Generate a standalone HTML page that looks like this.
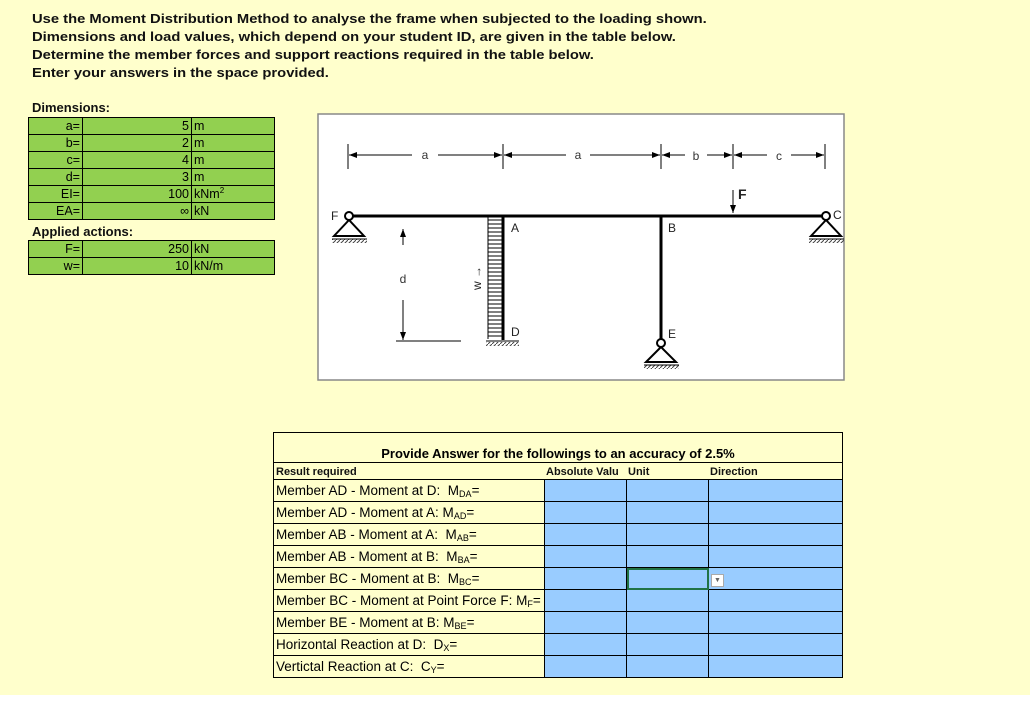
<!DOCTYPE html>
<html><head><style>
body{margin:0;width:1030px;height:703px;background:#fff;position:relative;font-family:"Liberation Sans",Arial,sans-serif;overflow:hidden}
#bg{position:absolute;left:0;top:0;width:1030px;height:695px;background:#FFFFCC}
.t{position:absolute;left:32px;font-weight:bold;font-size:13px;color:#111;white-space:nowrap}
.w{transform:scaleX(1.135);transform-origin:0 0}
.g{position:absolute;border-collapse:collapse;font-size:12.5px}
.g td{border:1.5px solid #000;background:#92D050;height:16px;padding:0 2px;line-height:16px}
.a{position:absolute;left:273px;top:479px;border-collapse:collapse;font-size:13.5px;width:570px}
.a td{border:1px solid #000;height:21px;padding:0 2px;white-space:nowrap;line-height:16px}
.a td.b{background:#99CCFF}
sub{font-size:9px;line-height:0;vertical-align:-2px}
.s{position:absolute;top:466px;font-size:11px;font-weight:bold;color:#111}
</style></head><body>
<div id="bg"></div>
<div class="t w" style="top:11px">Use the Moment Distribution Method to analyse the frame when subjected to the loading shown.</div>
<div class="t w" style="top:29px">Dimensions and load values, which depend on your student ID, are given in the table below.</div>
<div class="t w" style="top:47px">Determine the member forces and support reactions required in the table below.</div>
<div class="t w" style="top:65px">Enter your answers in the space provided.</div>
<div class="t" style="top:100px">Dimensions:</div>
<table class="g" style="left:28px;top:117px">
<tr><td style="width:49px;text-align:right">a=</td><td style="width:104px;text-align:right">5</td><td style="width:78px">m</td></tr>
<tr><td style="text-align:right">b=</td><td style="text-align:right">2</td><td>m</td></tr>
<tr><td style="text-align:right">c=</td><td style="text-align:right">4</td><td>m</td></tr>
<tr><td style="text-align:right">d=</td><td style="text-align:right">3</td><td>m</td></tr>
<tr><td style="text-align:right">EI=</td><td style="text-align:right">100</td><td>kNm<sup style="font-size:8px;line-height:0">2</sup></td></tr>
<tr><td style="text-align:right">EA=</td><td style="text-align:right">∞</td><td>kN</td></tr>
</table>
<div class="t" style="top:224px">Applied actions:</div>
<table class="g" style="left:28px;top:240px">
<tr><td style="width:49px;text-align:right">F=</td><td style="width:104px;text-align:right">250</td><td style="width:78px">kN</td></tr>
<tr><td style="text-align:right">w=</td><td style="text-align:right">10</td><td>kN/m</td></tr>
</table>
<svg style="position:absolute;left:0;top:0" width="1030" height="703">
<defs><marker id="ar" markerWidth="8" markerHeight="6" refX="8" refY="3" orient="auto"><path d="M0,0L8,3L0,6z" fill="#000"/></marker>
<pattern id="h" width="4" height="4" patternUnits="userSpaceOnUse"><path d="M0,4L4,0" stroke="#444" stroke-width="1"/></pattern></defs>
<rect x="318" y="114" width="526" height="266" fill="#fff" stroke="#888" stroke-width="1.5"/>
<g stroke="#000" stroke-width="1" fill="none">
<line x1="348" y1="144" x2="348" y2="169"/><line x1="503" y1="144" x2="503" y2="169"/><line x1="661" y1="144" x2="661" y2="169"/><line x1="733" y1="144" x2="733" y2="169"/><line x1="825" y1="144" x2="825" y2="169"/>
<line x1="412" y1="155" x2="349" y2="155" marker-end="url(#ar)"/><line x1="438" y1="155" x2="502" y2="155" marker-end="url(#ar)"/>
<line x1="566" y1="155" x2="504" y2="155" marker-end="url(#ar)"/><line x1="590" y1="155" x2="660" y2="155" marker-end="url(#ar)"/>
<line x1="685" y1="155" x2="662" y2="155" marker-end="url(#ar)"/><line x1="707" y1="155" x2="732" y2="155" marker-end="url(#ar)"/>
<line x1="767" y1="155" x2="734" y2="155" marker-end="url(#ar)"/><line x1="791" y1="155" x2="824" y2="155" marker-end="url(#ar)"/>
<line x1="403" y1="245" x2="403" y2="229" marker-end="url(#ar)"/><line x1="403" y1="300" x2="403" y2="340" marker-end="url(#ar)"/>
<line x1="396" y1="341" x2="461" y2="341"/>
<line x1="733" y1="190" x2="733" y2="213" marker-end="url(#ar)"/>
</g>
<g font-size="12" fill="#333" text-anchor="middle"><text x="425" y="159">a</text><text x="578" y="159">a</text><text x="696" y="160">b</text><text x="779" y="160">c</text><text x="403" y="283">d</text></g>
<g stroke="#000" stroke-width="1">
<line x1="488" y1="217" x2="488" y2="339"/>
<path d="M488 220H502M488 224H502M488 228H502M488 232H502M488 236H502M488 240H502M488 244H502M488 248H502M488 252H502M488 256H502M488 260H502M488 264H502M488 268H502M488 272H502M488 276H502M488 280H502M488 284H502M488 288H502M488 292H502M488 296H502M488 300H502M488 304H502M488 308H502M488 312H502M488 316H502M488 320H502M488 324H502M488 328H502M488 332H502M488 336H502"/>
</g>
<g stroke="#000" stroke-width="3"><line x1="349" y1="216" x2="825" y2="216"/><line x1="503" y1="216" x2="503" y2="340"/><line x1="661" y1="216" x2="661" y2="340"/></g>
<g stroke="#000" stroke-width="2" fill="#fff">
<path d="M349 220L334 236H364Z"/><circle cx="349" cy="216" r="4"/>
<path d="M826 220L811 236H841Z"/><circle cx="826" cy="216" r="4"/>
<path d="M661 347L646 362H676Z"/><circle cx="661" cy="343" r="4"/>
</g>
<g fill="url(#h)"><rect x="332" y="239" width="35" height="4"/><rect x="809" y="239" width="35" height="4"/><rect x="644" y="365" width="35" height="4"/><rect x="486" y="342" width="33" height="4"/></g>
<g stroke="#000" stroke-width="1"><line x1="332" y1="239" x2="367" y2="239"/><line x1="809" y1="239" x2="844" y2="239"/><line x1="644" y1="365" x2="679" y2="365"/><line x1="486" y1="341" x2="519" y2="341"/></g>
<g font-size="12" fill="#222"><text x="331" y="220">F</text><text x="833" y="219">C</text><text x="511" y="232">A</text><text x="668" y="232">B</text><text x="511" y="336">D</text><text x="668" y="338">E</text>
<text x="738" y="199" font-weight="bold" font-size="14">F</text>
<text x="0" y="0" transform="translate(481,290) rotate(-90)" font-size="12">w →</text></g>
</svg>
<div style="position:absolute;left:273px;top:432px;width:568px;height:46px;border:1px solid #000;border-bottom:none"></div>
<div style="position:absolute;left:273px;top:462px;width:570px;height:0;border-top:1.5px solid #000"></div>
<div style="position:absolute;left:273px;top:446px;width:570px;text-align:center;font-weight:bold;font-size:13px">Provide Answer for the followings to an accuracy of 2.5%</div>
<div class="s" style="left:276px">Result required</div>
<div class="s" style="left:546px">Absolute Valu</div>
<div class="s" style="left:628px">Unit</div>
<div class="s" style="left:710px">Direction</div>
<table class="a">
<tr><td style="width:266px">Member AD - Moment at D:&nbsp; M<sub>DA</sub>=</td><td class="b" style="width:77px"></td><td class="b" style="width:77px"></td><td class="b"></td></tr>
<tr><td>Member AD - Moment at A: M<sub>AD</sub>=</td><td class="b"></td><td class="b"></td><td class="b"></td></tr>
<tr><td>Member AB - Moment at A:&nbsp; M<sub>AB</sub>=</td><td class="b"></td><td class="b"></td><td class="b"></td></tr>
<tr><td>Member AB - Moment at B:&nbsp; M<sub>BA</sub>=</td><td class="b"></td><td class="b"></td><td class="b"></td></tr>
<tr><td>Member BC - Moment at B:&nbsp; M<sub>BC</sub>=</td><td class="b"></td><td class="b" style="outline:2px solid #217346;outline-offset:-2px"></td><td class="b"><span style="display:inline-block;width:11px;height:11px;background:#fff;border:1px solid #aaa;font-size:7px;text-align:center;line-height:11px;color:#666">▼</span></td></tr>
<tr><td>Member BC - Moment at Point Force F: M<sub>F</sub>=</td><td class="b"></td><td class="b"></td><td class="b"></td></tr>
<tr><td>Member BE - Moment at B: M<sub>BE</sub>=</td><td class="b"></td><td class="b"></td><td class="b"></td></tr>
<tr><td>Horizontal Reaction at D:&nbsp; D<sub>X</sub>=</td><td class="b"></td><td class="b"></td><td class="b"></td></tr>
<tr><td>Vertictal Reaction at C:&nbsp; C<sub>Y</sub>=</td><td class="b"></td><td class="b"></td><td class="b"></td></tr>
</table>
</body></html>
